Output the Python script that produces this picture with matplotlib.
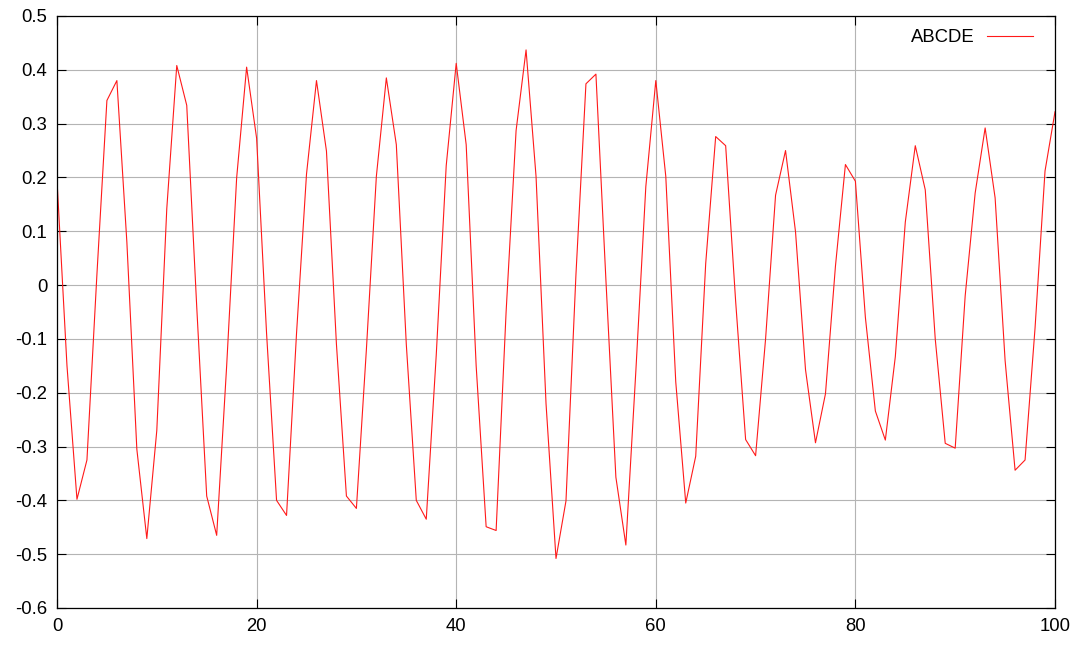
import matplotlib
matplotlib.use("Agg")
import matplotlib.pyplot as plt

x_values = list(range(0, 101))
y_values = [
    0.195, -0.15, -0.398, -0.325, 0.02, 0.343, 0.380, 0.08, -0.305, -0.471,
    -0.270, 0.142, 0.408, 0.334, -0.04, -0.392, -0.465, -0.15, 0.199, 0.405,
    0.273, -0.09, -0.400, -0.428, -0.09, 0.206, 0.380, 0.249, -0.11, -0.392,
    -0.415, -0.12, 0.202, 0.385, 0.261, -0.11, -0.400, -0.435, -0.13, 0.222,
    0.412, 0.261, -0.15, -0.449, -0.456, -0.05, 0.287, 0.437, 0.202, -0.22,
    -0.508, -0.401, 0.02, 0.374, 0.392, 0.01, -0.357, -0.483, -0.16, 0.183,
    0.380, 0.202, -0.18, -0.405, -0.318, 0.04, 0.276, 0.259, -0.03, -0.287,
    -0.317, -0.10, 0.167, 0.250, 0.099, -0.157, -0.293, -0.202, 0.035, 0.224,
    0.193, -0.06, -0.234, -0.288, -0.133, 0.117, 0.259, 0.177, -0.10, -0.294,
    -0.303, -0.02, 0.171, 0.292, 0.162, -0.14, -0.344, -0.325, -0.08, 0.212,
    0.322,
]
series_label = "ABCDE"
x_ticks = [0, 20, 40, 60, 80, 100]
y_ticks = [-0.6, -0.5, -0.4, -0.3, -0.2, -0.1, 0.0, 0.1, 0.2, 0.3, 0.4, 0.5]
y_tick_labels = ["-0.6", "-0.5", "-0.4", "-0.3", "-0.2", "-0.1", "0",
                 "0.1", "0.2", "0.3", "0.4", "0.5"]

plt.rcParams['font.family'] = ['Liberation Sans', 'DejaVu Sans']
plt.rcParams['axes.unicode_minus'] = False

fig = plt.figure(figsize=(10.77, 6.48), dpi=100)
ax = fig.add_axes([57 / 1077, 1 - 608 / 648, (1055 - 57) / 1077, (608 - 16) / 648])

ax.plot(x_values, y_values, color='#ff1a1a', lw=0.8, label=series_label)

ax.set_xlim(0, 100)
ax.set_ylim(-0.6, 0.5)
ax.set_xticks(x_ticks)
ax.set_xticklabels([str(t) for t in x_ticks])
ax.set_yticks(y_ticks)
ax.set_yticklabels(y_tick_labels)

ax.grid(True, color='#b4b4b4', lw=0.8, ls='-')
ax.set_axisbelow(True)

ax.tick_params(axis='both', which='major', direction='in', length=6.5, width=0.8,
               top=True, right=True, labelsize=13.3, pad=7, colors='black')
for sp in ax.spines.values():
    sp.set_linewidth(0.9)
    sp.set_color('black')

leg = ax.legend(loc='upper right', bbox_to_anchor=(0.978, 0.978),
                frameon=False, markerfirst=False,
                handlelength=2.5, handletextpad=0.65, fontsize=13.3,
                borderaxespad=0.0, borderpad=0.0)

fig.savefig("out.png", dpi=100)
